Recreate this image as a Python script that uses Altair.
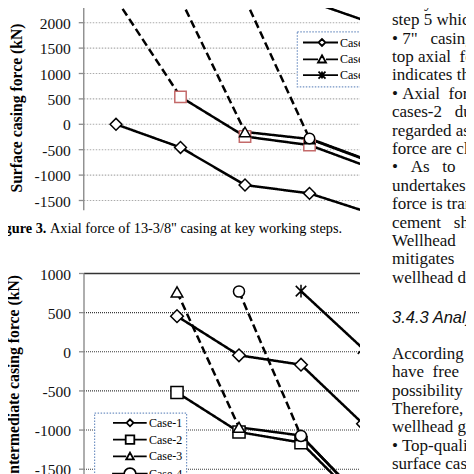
import altair as alt
import pandas as pd

# ---------------- data ----------------
STEPS = [1, 2, 3, 4, 5]
CASES = ["Case-1", "Case-2", "Case-3", "Case-4", "Case-5"]
TOP_LEGEND_SHOWN = ["Case-1", "Case-3", "Case-5"]

SURF_CASE1 = [0, -455, -1195, -1360, -1770]
SURF_CASE2 = [2470, 540, -240, -410, -880]
SURF_CASE3 = [None, 2470, -150, -290, -760]
SURF_CASE4 = [None, None, 2470, -280, -750]
SURF_CASE5 = [None, None, None, 2420, 1980]

INT_CASE1 = [None, 455, -45, -165, -920]
INT_CASE2 = [None, -520, -1025, -1160, -1950]
INT_CASE3 = [None, 765, -965, -1070, -1900]
INT_CASE4 = [None, None, 770, -1075, -1890]
INT_CASE5 = [None, None, None, 775, 40]

SURF_DASHED_FIRST = ["Case-2", "Case-3", "Case-4"]
INT_DASHED_FIRST = ["Case-3", "Case-4"]

SURF_TICKS = [2500, 2000, 1500, 1000, 500, 0, -500, -1000, -1500]
INT_TICKS = [1000, 500, 0, -500, -1000, -1500]

SURF_TITLE = "Surface casing force (kN)"
INT_TITLE = "Intermediate casing force (kN)"
CAPTION_BOLD = "Figure 3."
CAPTION_TEXT = "Axial force of 13-3/8\" casing at key working steps."

NB = "\u00a0"
PARA1 = [
    "safety. Axial force",
    "step 5 which",
    f"\u2022{NB}7\"{NB*3}casing",
    f"top{NB}axial{NB*2}force",
    "indicates that",
    f"\u2022{NB}Axial{NB*2}force",
    f"cases-2{NB*3}due",
    "regarded as",
    "force are close",
    f"\u2022{NB*3}As{NB*3}to{NB*3}the",
    "undertakes",
    "force is transferred",
    f"cement{NB*3}sheath",
    "Wellhead",
    "mitigates",
    "wellhead deformation",
]
HEADING = "3.4.3 Analysis"
PARA2 = [
    "According",
    f"have{NB*2}free",
    "possibility",
    "Therefore,",
    "wellhead growth",
    "\u2022 Top-quality",
    "surface casing",
]

SERIF = "Liberation Serif"
SANS = "Liberation Sans"
ASTERISK = "M-1,-1L1,1M-1,1L1,-1M0,-1.2L0,1.2"


def frames(series, dashed_first):
    line_rows, point_rows = [], []
    for case, vals in series.items():
        pts = [(s, v) for s, v in zip(STEPS, vals) if v is not None]
        for s, v in pts:
            point_rows.append({"case": case, "step": s, "force": v})
        start = 0
        if case in dashed_first:
            for s, v in pts[:2]:
                line_rows.append({"case": case, "seg": case + "-d", "style": "dashed", "step": s, "force": v})
            start = 1
        for s, v in pts[start:]:
            line_rows.append({"case": case, "seg": case + "-s", "style": "solid", "step": s, "force": v})
    return pd.DataFrame(line_rows), pd.DataFrame(point_rows)


def span(p1, v1, p2, v2, a, b):
    k = (v2 - v1) / (p2 - p1)
    return [v1 + (a - p1) * k, v1 + (b - p1) * k]


def sc(dom):
    return alt.Scale(domain=dom, nice=False, zero=False)


def legend_path(kind, x0, x1, xm, h, thick=False, c=7.0, s=6.0):
    U = lambda px: f"{(px - c) / s:.3f}"
    V = lambda py: f"{py / s:.3f}"
    parts = [f"M{U(0)},0"]
    gap = 0 if kind == "asterisk" else h
    segs = [(x0, xm - gap), (xm + gap, x1)] if gap else [(x0, x1)]
    for a, b in segs:
        if thick:
            t = 0.6
            parts.append(f"M{U(a)},{V(-t)}L{U(b)},{V(-t)}L{U(b)},{V(t)}L{U(a)},{V(t)}Z")
        else:
            parts.append(f"M{U(a)},0L{U(b)},0")
    if kind == "diamond":
        parts.append(f"M{U(xm-h)},0L{U(xm)},{V(-h)}L{U(xm+h)},0L{U(xm)},{V(h)}Z")
    elif kind == "square":
        parts.append(f"M{U(xm-h)},{V(-h)}L{U(xm+h)},{V(-h)}L{U(xm+h)},{V(h)}L{U(xm-h)},{V(h)}Z")
    elif kind == "triangle":
        parts.append(f"M{U(xm)},{V(-h)}L{U(xm+h)},{V(h*0.8)}L{U(xm-h)},{V(h*0.8)}Z")
    elif kind == "circle":
        parts.append(f"M{U(xm+h)},0A{V(h)},{V(h)} 0 1 1 {U(xm-h)},0A{V(h)},{V(h)} 0 1 1 {U(xm+h)},0Z")
    elif kind == "asterisk":
        parts.append(f"M{U(xm-h)},{V(-h)}L{U(xm+h)},{V(h)}M{U(xm-h)},{V(h)}L{U(xm+h)},{V(-h)}M{U(xm)},{V(-h)}L{U(xm)},{V(h)}")
    return "".join(parts)


KINDS = ["diamond", "square", "triangle", "circle", "asterisk"]
TOP_LEG_PATHS = [legend_path(k, 2, 37, 21, h) for k, h in zip(KINDS, [3.5, 4.2, 4.0, 4.5, 3.5])]
BOT_LEG_PATHS = [legend_path(k, 15.7, 49.4, 32.7, h, thick=(k == "circle"))
                 for k, h in zip(KINDS, [3.5, 4.3, 3.8, 6.0, 4.0])]

# screen-pixel calibration (left view covers screen x 8..360, y 8..474)
TX = span(116, 1, 374, 5, 8, 360)
TY = span(22.7, 2000, 200.5, -1500, 474, 8)
BX = span(177, 2, 301, 4, 8, 360)
BY = span(273.5, 1000, 469.2, -1500, 474, 8)


def panel(series, dashed, ticks, xdom, ydom, grid_color, grid_dash, axis_lo, axis_hi,
          sizes, strokes, leg_paths, leg_opts, solid_top=None):
    ldf, pdf = frames(series, dashed)
    tdf = pd.DataFrame({"tick": ticks, "label": [str(t) for t in ticks]})
    one = pd.DataFrame({"k": [0]})
    X0 = alt.X(datum=0.5, type="quantitative", scale=sc(xdom), axis=None)
    layers = []
    gdf = tdf if solid_top is None else tdf[tdf.tick != solid_top]
    layers.append(alt.Chart(gdf).mark_rule(color=grid_color, strokeDash=grid_dash, strokeWidth=1.1, clip=True).encode(
        x=X0, x2=alt.X2(datum=5.5), y=alt.Y("tick:Q", scale=sc(ydom), axis=None)))
    if solid_top is not None:
        layers.append(alt.Chart(tdf[tdf.tick == solid_top]).mark_rule(color="#333333", strokeWidth=1.6, clip=True).encode(
            x=X0, x2=alt.X2(datum=5.5), y=alt.Y("tick:Q", scale=sc(ydom), axis=None)))
    layers.append(alt.Chart(one).mark_rule(color="#8c8c8c", strokeWidth=1.4, clip=True).encode(
        x=X0, y=alt.Y(datum=axis_lo, type="quantitative", scale=sc(ydom), axis=None), y2=alt.Y2(datum=axis_hi)))
    layers.append(alt.Chart(tdf).mark_point(shape="M-1,0L0,0", size=100, filled=False, color="#8c8c8c",
                                            strokeWidth=1.3, opacity=1, clip=True).encode(
        x=X0, y=alt.Y("tick:Q", scale=sc(ydom), axis=None)))
    layers.append(alt.Chart(tdf).mark_text(align="right", baseline="middle", dx=-13, dy=1, font=SERIF,
                                           fontSize=15.5, color="#111111", clip=True).encode(
        x=X0, y=alt.Y("tick:Q", scale=sc(ydom), axis=None), text="label:N"))
    layers.append(alt.Chart(ldf).mark_line(color="black", strokeWidth=2.5, clip=True).encode(
        x=alt.X("step:Q", scale=sc(xdom), axis=None),
        y=alt.Y("force:Q", scale=sc(ydom), axis=None),
        detail="seg:N",
        strokeDash=alt.StrokeDash("style:N", scale=alt.Scale(domain=["solid", "dashed"], range=[[1, 0], [8, 4]]),
                                  legend=None)))
    layers.append(alt.Chart(pdf).mark_point(filled=True, fill="white", strokeWidth=1.5, opacity=1, clip=True).encode(
        x=alt.X("step:Q", scale=sc(xdom), axis=None),
        y=alt.Y("force:Q", scale=sc(ydom), axis=None),
        shape=alt.Shape("case:N", scale=alt.Scale(domain=CASES, range=["diamond", "square", "triangle-up", "circle", ASTERISK]), legend=None),
        size=alt.Size("case:N", scale=alt.Scale(domain=CASES, range=sizes), legend=None),
        stroke=alt.Stroke("case:N", scale=alt.Scale(domain=CASES, range=strokes), legend=None)))
    layers.append(alt.Chart(pdf).transform_filter("false").mark_point(
        filled=True, fill="white", stroke="black", strokeWidth=1.8, size=144, opacity=1).encode(
        shape=alt.Shape("case:N", scale=alt.Scale(domain=CASES, range=leg_paths), legend=alt.Legend(**leg_opts))))
    return layers


common_leg = dict(orient="none", title=None, labelFont=SERIF, labelFontSize=12, labelColor="black",
                  symbolSize=144, symbolStrokeWidth=1.8, strokeColor="#7393c4", fillColor="white")

top_layers = panel(
    {"Case-1": SURF_CASE1, "Case-2": SURF_CASE2, "Case-3": SURF_CASE3, "Case-4": SURF_CASE4, "Case-5": SURF_CASE5},
    SURF_DASHED_FIRST, SURF_TICKS, TX, TY, "#ababab", [1.5, 1.5], -1690, 2700,
    [140, 100, 110, 110, 80], ["black", "#c46a6a", "black", "black", "black"], TOP_LEG_PATHS,
    dict(common_leg, legendX=289, legendY=23.5, values=TOP_LEGEND_SHOWN, columns=1,
         padding=4, rowPadding=0.8, labelOffset=25))

bot_layers = panel(
    {"Case-1": INT_CASE1, "Case-2": INT_CASE2, "Case-3": INT_CASE3, "Case-4": INT_CASE4, "Case-5": INT_CASE5},
    INT_DASHED_FIRST, INT_TICKS, BX, BY, "#3a3a3a", [1, 1], -2300, 1000,
    [160, 110, 100, 130, 90], ["black"] * 5, BOT_LEG_PATHS,
    dict(common_leg, legendX=86.3, legendY=404.8, columns=1, padding=3, rowPadding=0.8, labelOffset=37.7,
         labelExpr="datum.label + '" + NB * 5 + "'"),
    solid_top=1000)

txt_layers = [
    alt.Chart(pd.DataFrame({"t": [SURF_TITLE]})).mark_text(
        angle=270, align="center", baseline="middle", font=SERIF, fontWeight="bold", fontSize=15.7,
        color="black", clip=True).encode(x=alt.value(9), y=alt.value(100), text="t:N"),
    alt.Chart(pd.DataFrame({"t": [INT_TITLE]})).mark_text(
        angle=270, align="center", baseline="middle", font=SERIF, fontWeight="bold", fontSize=15.7,
        color="black", clip=True).encode(x=alt.value(5.5), y=alt.value(369.5), text="t:N"),
    alt.Chart(pd.DataFrame({"t": [CAPTION_BOLD]})).mark_text(
        align="right", baseline="alphabetic", font=SERIF, fontWeight="bold", fontSize=14.3,
        color="black", clip=True).encode(x=alt.value(38.4), y=alt.value(225.3), text="t:N"),
    alt.Chart(pd.DataFrame({"t": [CAPTION_TEXT]})).mark_text(
        align="left", baseline="alphabetic", font=SERIF, fontSize=14.3,
        color="black", clip=True).encode(x=alt.value(42), y=alt.value(225.3), text="t:N"),
]

left = alt.layer(*(top_layers + bot_layers + txt_layers)).resolve_scale(
    x="independent", y="independent", shape="independent", size="independent",
    stroke="independent", strokeDash="independent").properties(width=352, height=466)

right = alt.layer(
    alt.Chart(pd.DataFrame({"t": ["\n".join(PARA1)]})).mark_text(
        align="left", baseline="alphabetic", lineBreak="\n", lineHeight=18.4, font=SERIF, fontSize=17,
        color="#111111", clip=True).encode(x=alt.value(32), y=alt.value(-1.2), text="t:N"),
    alt.Chart(pd.DataFrame({"t": [HEADING]})).mark_text(
        align="left", baseline="alphabetic", font=SANS, fontStyle="italic", fontSize=16.5,
        color="#111111", clip=True).encode(x=alt.value(32), y=alt.value(315), text="t:N"),
    alt.Chart(pd.DataFrame({"t": ["\n".join(PARA2)]})).mark_text(
        align="left", baseline="alphabetic", lineBreak="\n", lineHeight=18.4, font=SERIF, fontSize=17,
        color="#111111", clip=True).encode(x=alt.value(32), y=alt.value(350.8), text="t:N"),
).properties(width=106, height=466)

chart = alt.hconcat(left, right, spacing=0, bounds="flush").properties(
    padding=0, background="white").configure_view(
    stroke=None, fill="white").configure_legend(strokeDash=[1.5, 1.5], strokeWidth=1.2)

chart.save("out.html", embed_options={"renderer": "svg", "actions": False})
